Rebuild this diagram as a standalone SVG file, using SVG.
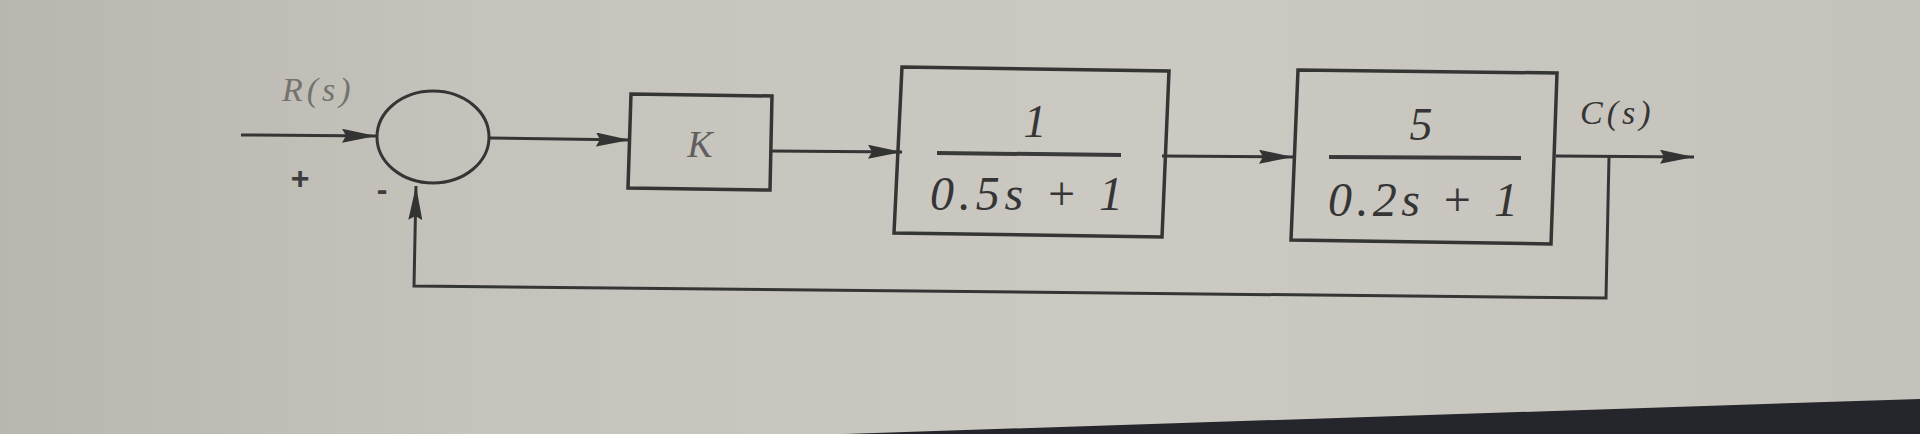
<svg xmlns="http://www.w3.org/2000/svg" width="1920" height="434" viewBox="0 0 1920 434">
<defs>
<linearGradient id="bg" x1="0" y1="0" x2="1" y2="0">
<stop offset="0" stop-color="#b9b5af"/>
<stop offset="0.25" stop-color="#c6c3bc"/>
<stop offset="0.6" stop-color="#cbc9c2"/>
<stop offset="1" stop-color="#c4c2bb"/>
</linearGradient>
<marker id="arrL" viewBox="0 0 34 14" refX="34" refY="7" markerWidth="34" markerHeight="14" markerUnits="userSpaceOnUse" orient="auto">
<path d="M0,0 L34,7 L0,14 L4,7 z" fill="#333"/>
</marker>
</defs>
<style>
.ln{fill:none;stroke:#353535;stroke-width:3}
.fr{stroke:#3a3a3a;stroke-width:4}
.bx{fill:none;stroke:#353535;stroke-width:3.5}
.t{font-family:"Liberation Serif",serif;font-style:italic;fill:#353535}
.s{font-family:"Liberation Sans",sans-serif;font-weight:bold;fill:#3c3c3c}
</style>
<rect width="1920" height="434" fill="url(#bg)"/>
<polygon points="845,434 1920,399 1920,434" fill="#25262b"/>

<g id="connectors">
<line class="ln" x1="241" y1="135" x2="376" y2="136" marker-end="url(#arrL)"/>
<line class="ln" x1="490" y1="138" x2="630" y2="140" marker-end="url(#arrL)"/>
<line class="ln" x1="771" y1="151" x2="902" y2="152" marker-end="url(#arrL)"/>
<line class="ln" x1="1162" y1="156" x2="1293" y2="157" marker-end="url(#arrL)"/>
<line class="ln" x1="1556" y1="156" x2="1694" y2="157" marker-end="url(#arrL)"/>
<polyline class="ln" points="1609,157 1606,298 414,286 416,186" marker-end="url(#arrL)"/>
</g>

<g id="sum">
<ellipse cx="433" cy="137" rx="56" ry="46" fill="none" stroke="#353535" stroke-width="3"/>
<text class="s" x="300" y="189" font-size="32" text-anchor="middle">+</text>
<text class="s" x="382" y="200" font-size="32" text-anchor="middle">-</text>
</g>

<g id="input">
<text class="t" x="282" y="101" font-size="34" letter-spacing="4" opacity="0.55">R(s)</text>
</g>

<g id="gainK">
<polygon class="bx" points="631,94 772,96 770,190 628,188"/>
<text class="t" x="700" y="157" font-size="38" text-anchor="middle" opacity="0.7">K</text>
</g>

<g id="plant1">
<polygon class="bx" points="902,67 1169,71 1162,237 894,233"/>
<line class="fr" x1="937" y1="153" x2="1121" y2="155"/>
<text class="t" x="1035" y="137" font-size="46" text-anchor="middle">1</text>
<text class="t" x="930" y="210" font-size="48" textLength="193">0.5s + 1</text>
</g>

<g id="plant2">
<polygon class="bx" points="1298,70 1557,73 1551,244 1291,240"/>
<line class="fr" x1="1329" y1="157" x2="1521" y2="158"/>
<text class="t" x="1421" y="140" font-size="46" text-anchor="middle">5</text>
<text class="t" x="1328" y="216" font-size="48" textLength="190">0.2s + 1</text>
</g>

<g id="output">
<text class="t" x="1580" y="124" font-size="34" letter-spacing="4">C(s)</text>
</g>
</svg>
